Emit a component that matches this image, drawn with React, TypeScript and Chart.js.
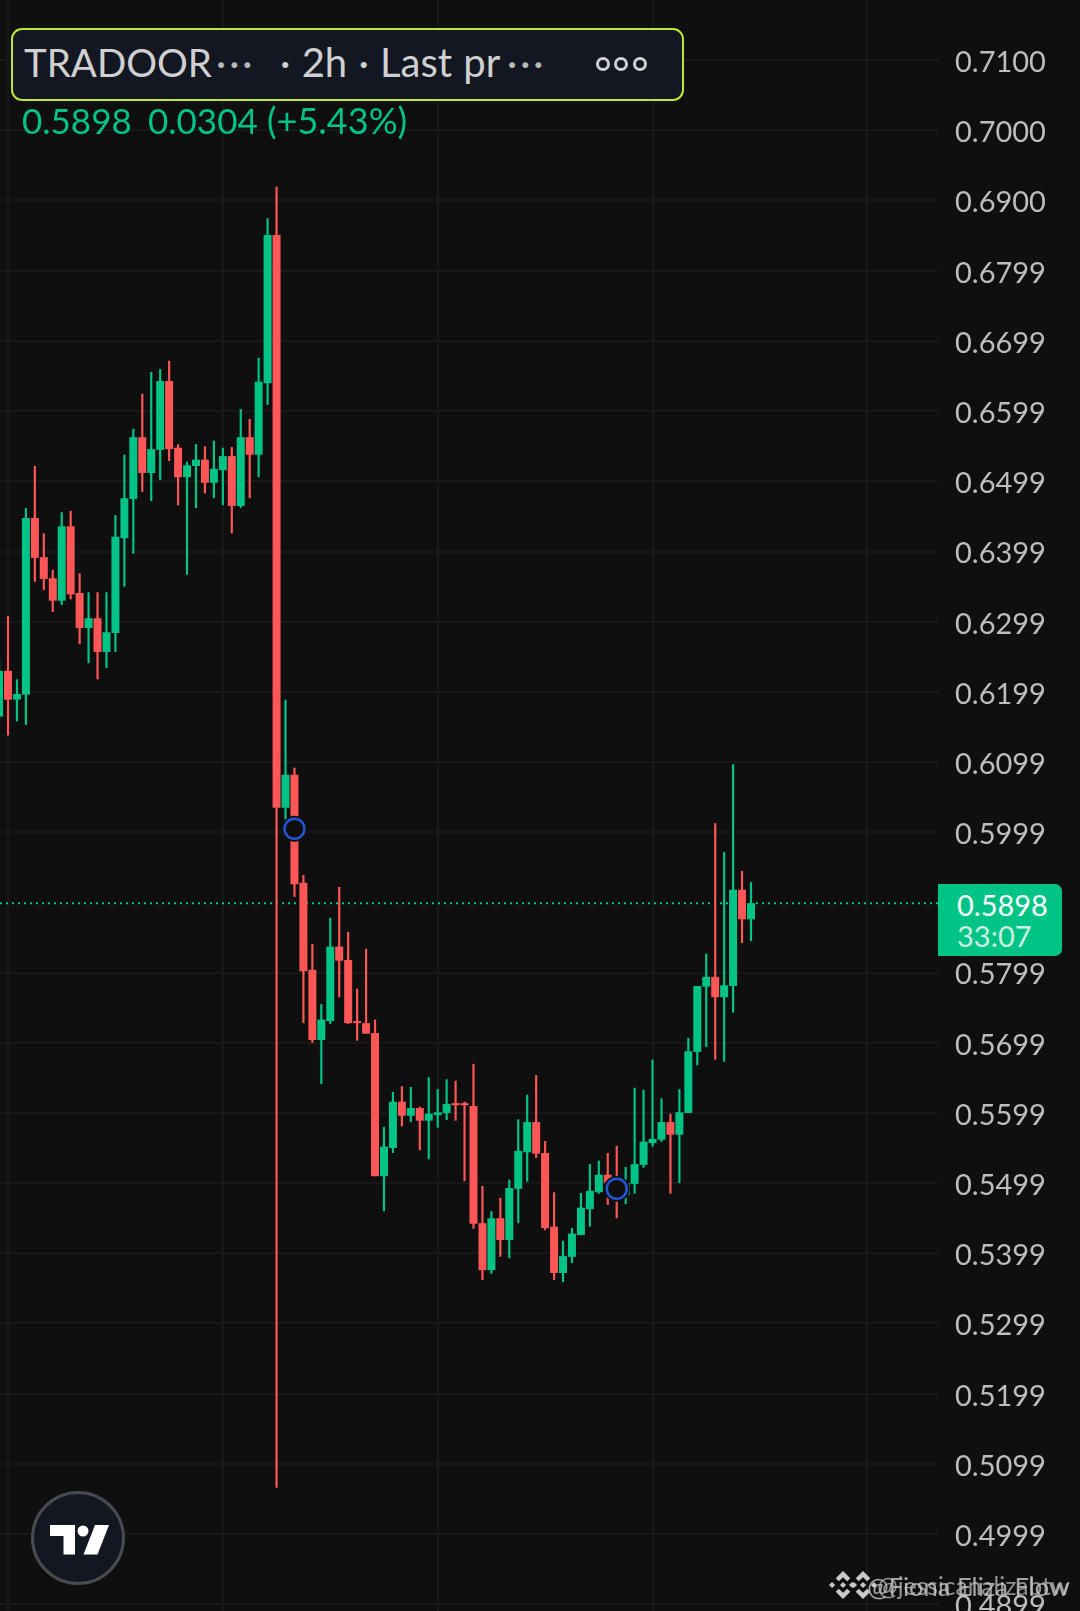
import React, { useEffect, useRef } from "react";
import { Chart, registerables } from "chart.js";

Chart.register(...registerables);

// Candle data, oldest first (2h bars)
const opens = [
  0.6164, 0.6229, 0.6188, 0.6195, 0.6447, 0.6391, 0.6361, 0.6329, 0.6435, 0.634,
  0.629, 0.6304, 0.6256, 0.6283, 0.6418, 0.6474, 0.6562, 0.6511, 0.6544, 0.6642,
  0.6547, 0.6505, 0.6521, 0.653, 0.6497, 0.6515, 0.6535, 0.6464, 0.6562, 0.6537,
  0.6639, 0.685, 0.6034, 0.6081, 0.5927, 0.5803, 0.5703, 0.573, 0.5836, 0.5817,
  0.573, 0.5727, 0.5713, 0.5509, 0.5549, 0.5615, 0.5595, 0.5606, 0.5588, 0.5596,
  0.5599, 0.5613, 0.5613, 0.5609, 0.5442, 0.5375, 0.5449, 0.5418, 0.5491, 0.5543,
  0.5586, 0.5542, 0.5437, 0.5371, 0.5394, 0.5425, 0.5462, 0.5486, 0.5511, 0.5499,
  0.5482, 0.5498, 0.5525, 0.5556, 0.5561, 0.5586, 0.5568, 0.5599, 0.5686, 0.5779,
  0.5793, 0.5764, 0.578, 0.5917, 0.5875,
];
const highs = [
  0.6245, 0.6307, 0.6217, 0.6461, 0.6521, 0.6425, 0.6373, 0.6455, 0.6457, 0.6368,
  0.6341, 0.6341, 0.6341, 0.6451, 0.6537, 0.6574, 0.6624, 0.6655, 0.6659, 0.6671,
  0.6552, 0.6527, 0.6552, 0.6549, 0.6557, 0.6547, 0.6548, 0.6602, 0.6588, 0.6675,
  0.6874, 0.6919, 0.6188, 0.6091, 0.5938, 0.584, 0.5754, 0.5877, 0.5921, 0.5857,
  0.5776, 0.5833, 0.5732, 0.5579, 0.5629, 0.5637, 0.5636, 0.5608, 0.565, 0.5633,
  0.5647, 0.5645, 0.5615, 0.5669, 0.5495, 0.5459, 0.5478, 0.5504, 0.559, 0.5625,
  0.5653, 0.5559, 0.5486, 0.5417, 0.5435, 0.5485, 0.5526, 0.5531, 0.5542, 0.5552,
  0.5522, 0.5635, 0.5632, 0.5675, 0.562, 0.5598, 0.5633, 0.5706, 0.578, 0.5826,
  0.6012, 0.5971, 0.6096, 0.5944, 0.5928,
];
const lows = [
  0.6156, 0.6137, 0.6157, 0.6152, 0.6356, 0.6344, 0.6313, 0.6323, 0.6331, 0.6267,
  0.624, 0.6217, 0.6233, 0.6256, 0.6349, 0.6396, 0.6484, 0.6471, 0.6501, 0.6528,
  0.6465, 0.6366, 0.6461, 0.6482, 0.6475, 0.6465, 0.6425, 0.6461, 0.6475, 0.6505,
  0.6608, 0.5065, 0.6017, 0.5907, 0.5727, 0.5699, 0.564, 0.5726, 0.5764, 0.5726,
  0.5702, 0.5712, 0.5509, 0.5459, 0.5542, 0.558, 0.5586, 0.5546, 0.5533, 0.5578,
  0.5589, 0.5588, 0.5502, 0.5434, 0.5361, 0.537, 0.5394, 0.5392, 0.5442, 0.5501,
  0.5535, 0.5432, 0.5361, 0.5358, 0.5385, 0.5425, 0.5437, 0.5484, 0.5468, 0.5449,
  0.5469, 0.5484, 0.5521, 0.5551, 0.5558, 0.5484, 0.5499, 0.5599, 0.5667, 0.5693,
  0.5675, 0.5672, 0.5742, 0.5841, 0.5844,
];
const closes = [
  0.6229, 0.6188, 0.6196, 0.6447, 0.639, 0.636, 0.6329, 0.6435, 0.6338, 0.629,
  0.6304, 0.6256, 0.6284, 0.642, 0.6475, 0.6562, 0.6511, 0.6545, 0.6642, 0.6545,
  0.6505, 0.6522, 0.653, 0.6497, 0.6517, 0.6535, 0.6464, 0.6562, 0.6537, 0.6641,
  0.685, 0.6034, 0.6081, 0.5925, 0.5801, 0.5703, 0.5732, 0.5836, 0.5816, 0.5727,
  0.5727, 0.5712, 0.5509, 0.5551, 0.5615, 0.5595, 0.5606, 0.5588, 0.5598, 0.56,
  0.5612, 0.561, 0.561, 0.5441, 0.5375, 0.5449, 0.5418, 0.5492, 0.5545, 0.5586,
  0.5541, 0.5435, 0.5371, 0.5395, 0.5427, 0.5464, 0.5488, 0.5511, 0.5499, 0.5486,
  0.5499, 0.5526, 0.5558, 0.5562, 0.5586, 0.5568, 0.56, 0.5687, 0.578, 0.5793,
  0.5764, 0.5781, 0.5917, 0.5875, 0.5898,
];

const priceTicks = [
  0.71, 0.7, 0.69, 0.6799, 0.6699, 0.6599, 0.6499, 0.6399, 0.6299, 0.6199, 0.6099,
  0.5999, 0.5799, 0.5699, 0.5599, 0.5499, 0.5399, 0.5299, 0.5199, 0.5099, 0.4999, 0.4899,
];
const gridBars = [1, 25, 49, 73, 97];
const lastPrice = 0.5898;
const markerBars = [33, 69];
const markerPrices = [0.6004, 0.5491];

const GREEN = "#00C386";
const RED = "#FD5656";
const BG = "#0F0F0F";
const GRID = "#181818";

const X_MIN = 0.106;
const X_MAX = 104.89;
const Y_MIN = 0.48893;
const Y_MAX = 0.7185;
const AXIS_W = 142;
const LABEL_SHIFT = 2.5;

const abs = (s: React.CSSProperties): React.CSSProperties => ({
  position: "absolute",
  whiteSpace: "pre",
  fontFamily: "Lato, sans-serif",
  ...s,
});

function BinanceMark({ x, y, s }: { x: number; y: number; s: number }) {
  const d = s / 2;
  const diamond = (cx: number, cy: number, r: number) =>
    `${cx},${cy - r} ${cx + r},${cy} ${cx},${cy + r} ${cx - r},${cy}`;
  return (
    <g transform={`translate(${x},${y})`} fill="#C9C9C9">
      <polygon points={diamond(0, 0, d * 0.22)} />
      <polygon points={diamond(-d * 0.78, 0, d * 0.22)} />
      <polygon points={diamond(d * 0.78, 0, d * 0.22)} />
      <path
        d={`M0 ${-d} L${d * 0.52} ${-d * 0.48} L${d * 0.3} ${-d * 0.26} L0 ${-d * 0.56} L${-d * 0.3} ${-d * 0.26} L${-d * 0.52} ${-d * 0.48} Z`}
      />
      <path
        d={`M0 ${d} L${d * 0.52} ${d * 0.48} L${d * 0.3} ${d * 0.26} L0 ${d * 0.56} L${-d * 0.3} ${d * 0.26} L${-d * 0.52} ${d * 0.48} Z`}
      />
    </g>
  );
}

export default function App() {
  const ref = useRef<HTMLCanvasElement>(null);

  useEffect(() => {
    document.body.style.margin = "0";
    document.body.style.background = BG;
    const ctx = ref.current!.getContext("2d")!;
    const idx = opens.map((_, i) => i);
    const colors = idx.map((i) => (closes[i] >= opens[i] ? GREEN : RED));
    const chart = new Chart(ctx, {
      type: "bar",
      data: {
        datasets: [
          {
            type: "line",
            label: "Last price",
            data: [
              { x: X_MIN, y: lastPrice },
              { x: X_MAX, y: lastPrice },
            ],
            borderColor: GREEN,
            borderWidth: 2,
            borderDash: [2, 4],
            pointRadius: 0,
            order: 5,
          },
          {
            type: "bar",
            label: "Wicks",
            data: idx.map((i) => ({ x: i, y: [lows[i], highs[i]] })),
            backgroundColor: colors,
            barThickness: 2.2,
            inflateAmount: 0,
            grouped: false,
            order: 4,
          },
          {
            type: "bar",
            label: "Bodies",
            data: idx.map((i) => ({ x: i, y: [opens[i], closes[i]] })),
            backgroundColor: colors,
            barThickness: 8,
            inflateAmount: 0,
            grouped: false,
            order: 3,
          },
          {
            type: "line",
            label: "Marker halo",
            data: markerBars.map((b, i) => ({ x: b, y: markerPrices[i] })),
            showLine: false,
            pointRadius: 13,
            pointBorderWidth: 0,
            pointBackgroundColor: BG,
            order: 2,
          },
          {
            type: "line",
            label: "Markers",
            data: markerBars.map((b, i) => ({ x: b, y: markerPrices[i] })),
            showLine: false,
            pointRadius: 10,
            pointBorderWidth: 2.5,
            pointBorderColor: "#2155D6",
            pointBackgroundColor: BG,
            order: 1,
          },
        ] as any,
      },
      options: {
        responsive: false,
        animation: false,
        devicePixelRatio: 1,
        layout: { padding: 0, autoPadding: false },
        plugins: { legend: { display: false }, tooltip: { enabled: false } },
        scales: {
          x: {
            type: "linear",
            offset: false,
            min: X_MIN,
            max: X_MAX,
            border: { display: false },
            ticks: { display: false },
            grid: { color: GRID, lineWidth: 2, drawTicks: false, offset: false },
            afterBuildTicks: (s: any) => {
              s.ticks = gridBars.map((v) => ({ value: v }));
            },
            afterFit: (s: any) => {
              s.height = 0;
              s.paddingLeft = 0;
              s.paddingRight = 0;
            },
          },
          y: {
            type: "linear",
            position: "right",
            min: Y_MIN,
            max: Y_MAX,
            border: { display: false },
            grid: { color: GRID, lineWidth: 2, drawTicks: false },
            ticks: {
              autoSkip: false,
              padding: 17,
              color: "#BDBDBD",
              font: { family: "Lato", size: 29 },
              callback: (v: any) => Number(v).toFixed(4),
            },
            afterBuildTicks: (s: any) => {
              s.ticks = priceTicks.map((v) => ({ value: v }));
            },
            afterFit: (s: any) => {
              s.width = AXIS_W;
              s.paddingTop = 0;
              s.paddingBottom = 0;
              if (!s.__shifted) {
                s.__shifted = true;
                const compute = s._computeLabelItems.bind(s);
                s._computeLabelItems = (area: any) =>
                  compute(area).map((it: any) => ({
                    ...it,
                    options: {
                      ...it.options,
                      translation: [it.options.translation[0], it.options.translation[1] + LABEL_SHIFT],
                    },
                  }));
              }
            },
          },
        },
      } as any,
    });
    return () => chart.destroy();
  }, []);

  const titleStyle = { top: 38, fontSize: 39, lineHeight: "48px", color: "#D0D0D0" };
  const dotStyle = { top: 38, fontSize: 39, lineHeight: "48px", color: "#B8B8B8", letterSpacing: 3 };

  return (
    <div style={{ position: "absolute", left: 0, top: 0, width: 1080, height: 1611, overflow: "hidden", background: BG }}>
      <canvas ref={ref} width={1080} height={1611} style={{ display: "block", width: 1080, height: 1611 }} />

      <div
        style={{
          position: "absolute",
          left: 11,
          top: 28,
          width: 669,
          height: 69,
          border: "2px solid #BDE635",
          borderRadius: 11,
          background: "#131722",
        }}
      />
      <div style={abs({ ...titleStyle, left: 24, fontSize: 38.5 })}>TRADOOR</div>
      <div style={abs({ ...dotStyle, left: 216 })}>···</div>
      <div style={abs({ ...titleStyle, left: 280, fontSize: 40, wordSpacing: 1 })}>· 2h · Last pr</div>
      <div style={abs({ ...dotStyle, left: 507 })}>···</div>
      {[603, 621, 640].map((cx) => (
        <div
          key={cx}
          style={{
            position: "absolute",
            left: cx - 7,
            top: 57,
            width: 8,
            height: 8,
            border: "3px solid #D0D0D0",
            borderRadius: "50%",
          }}
        />
      ))}
      <div style={abs({ left: 22, top: 99, fontSize: 35, lineHeight: "42px", color: GREEN })}>0.5898</div>
      <div style={abs({ left: 148, top: 99, fontSize: 35, lineHeight: "42px", color: GREEN })}>0.0304</div>
      <div style={abs({ left: 267, top: 99, fontSize: 36, lineHeight: "42px", color: GREEN })}>(+5.43%)</div>

      <div
        style={{
          position: "absolute",
          left: 938,
          top: 884,
          width: 124,
          height: 72,
          background: "#00C386",
          borderRadius: "0 7px 7px 0",
        }}
      />
      <div style={abs({ left: 957, top: 888, fontSize: 29, lineHeight: "34px", color: "#FFFFFF" })}>0.5898</div>
      <div style={abs({ left: 957, top: 919, fontSize: 29, lineHeight: "34px", color: "#CDEFE3" })}>33:07</div>

      <svg style={{ position: "absolute", left: 0, top: 0, pointerEvents: "none" }} width={1080} height={1611}>
        <circle cx={78} cy={1538} r={45.5} fill="#131722" stroke="#4A4B50" strokeWidth={3} />
        <g fill="#FFFFFF">
          <polygon points="50,1525 75,1525 75,1554.5 63.5,1554.5 63.5,1536 50,1536" />
          <circle cx={83} cy={1531} r={5.5} />
          <polygon points="95,1525 109,1525 97.5,1554.5 83.5,1554.5" />
        </g>
        <BinanceMark x={843} y={1585} s={28} />
        <BinanceMark x={863} y={1585} s={28} />
      </svg>
      <div style={abs({ right: 11, top: 1570, fontSize: 25.5, lineHeight: "32px", color: "rgba(200,200,200,0.8)" })}>@Fiona Eliza Flow</div>
      <div style={abs({ right: 10, top: 1570, fontSize: 24.5, lineHeight: "32px", color: "rgba(200,200,200,0.7)" })}>@jessicanalizabtw</div>
    </div>
  );
}
